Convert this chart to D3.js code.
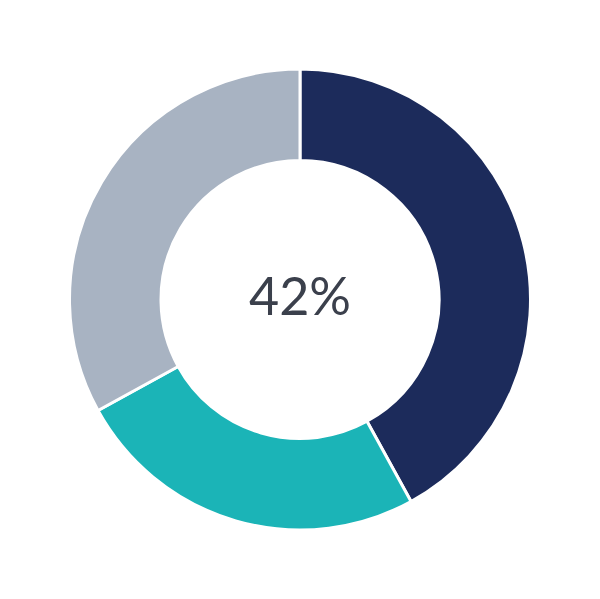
<!DOCTYPE html>
<html>

<head>
    <title>Donut Chart</title>
    <script src="https://cdn.jsdelivr.net/npm/d3@7/dist/d3.min.js"></script>
    <style>
        body { margin: 0; background: #fff; }
    </style>
</head>

<body>
    <svg width="600" height="599" id="mainsvg"></svg>
    <script>
        const categories = ['A', 'B', 'C'];
        const values = [42, 25, 33];
        const colors = ['#1c2b5b', '#1bb4b7', '#a8b3c2'];
        const centerLabel = '42%';

        const svg = d3.select('svg');
        const width = +svg.attr('width');
        const height = +svg.attr('height');
        const cx = 300, cy = 299.5;

        const data = categories.map((c, i) => ({ cat: c, value: values[i] }));
        const pie = d3.pie().value(d => d.value).sort(null);
        const arc = d3.arc().innerRadius(139).outerRadius(230.5);
        const color = d3.scaleOrdinal().domain(categories).range(colors);

        const g = svg.append('g').attr('transform', `translate(${cx}, ${cy})`);

        g.selectAll('path').data(pie(data)).join('path')
            .attr('d', arc)
            .attr('fill', d => color(d.data.cat))
            .attr('stroke', '#fff')
            .attr('stroke-width', 3);

        g.append('text')
            .attr('text-anchor', 'middle')
            .attr('dy', '0.35em')
            .attr('y', -3)
            .attr('font-family', 'Lato, sans-serif')
            .attr('font-size', 52)
            .attr('fill', '#3b404c')
            .text(centerLabel);
    </script>
</body>

</html>
